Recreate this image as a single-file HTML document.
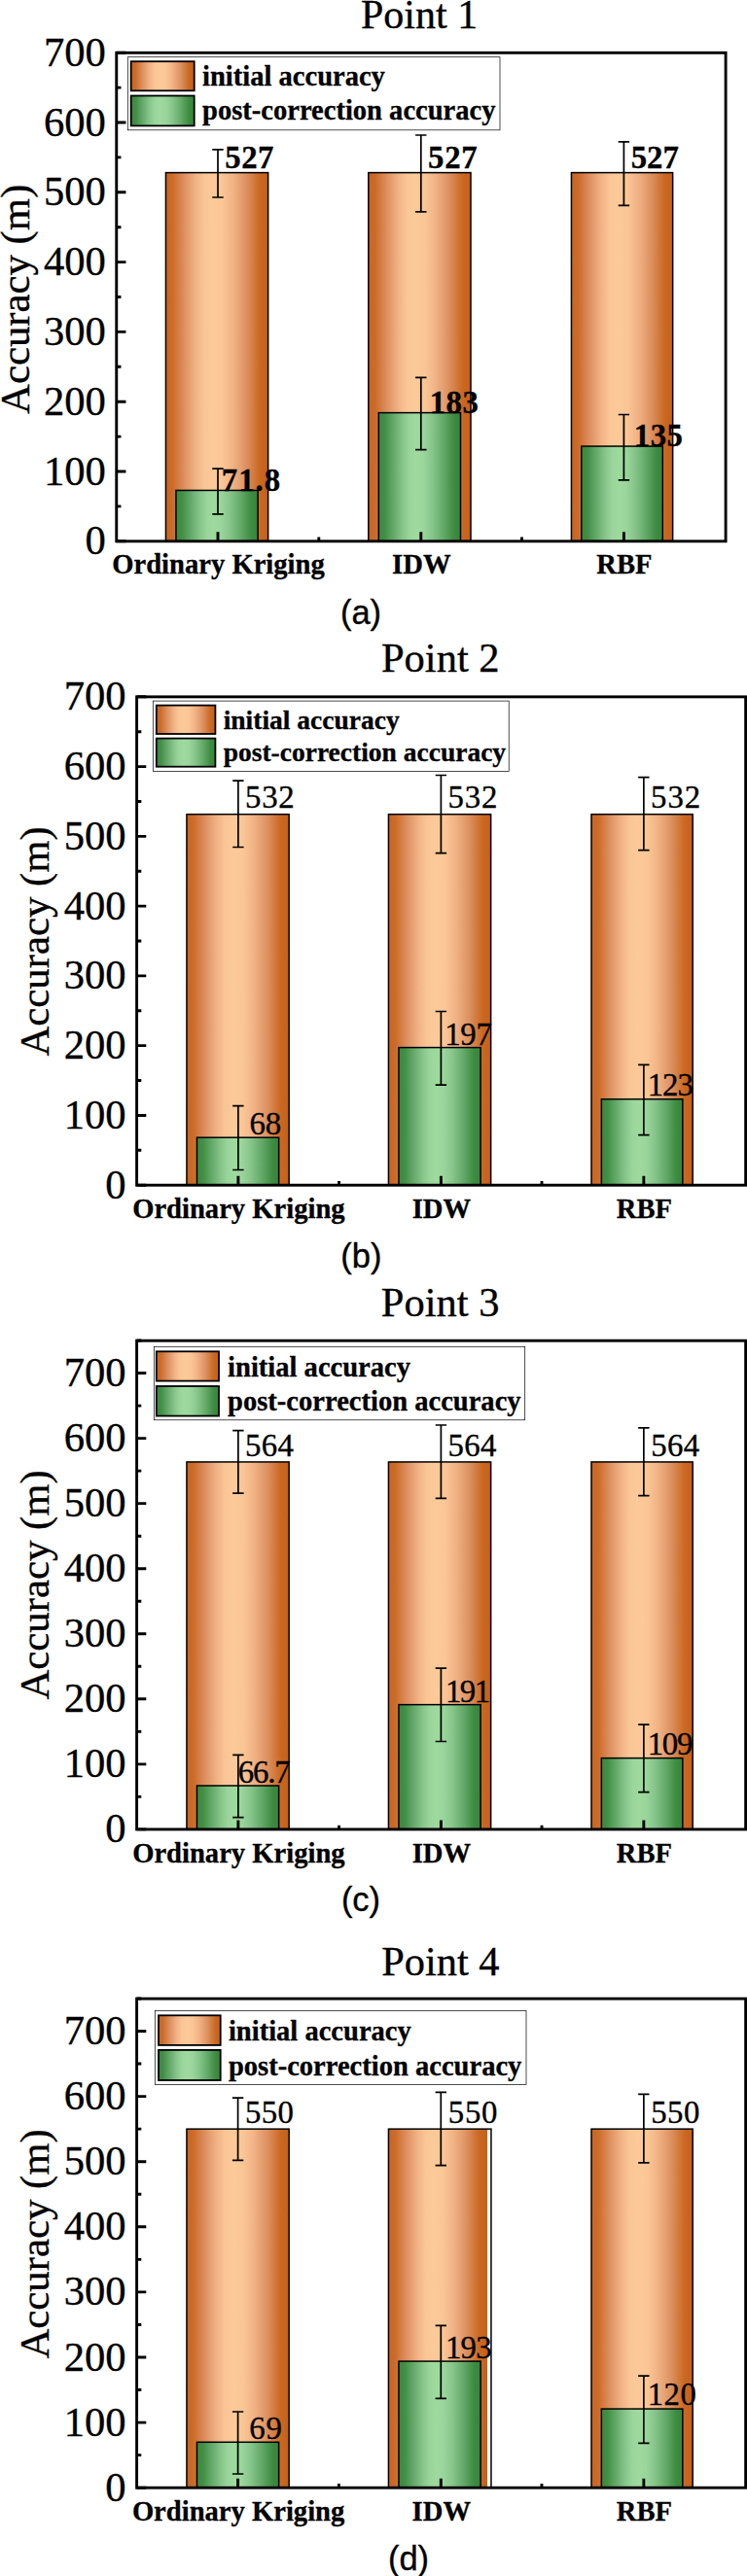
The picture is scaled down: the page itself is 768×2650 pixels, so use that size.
<!DOCTYPE html>
<html lang="en"><head><meta charset="utf-8"><title>Accuracy charts</title>
<style>
html,body{margin:0;padding:0;background:#fff;}
body{width:768px;height:2650px;overflow:hidden;}
svg{display:block;}
text{fill:#000;stroke:#000;stroke-width:0.35px;}
.b{stroke-width:0.3px;}
.s{font-family:"Liberation Serif", "Times New Roman", serif;}
.b{font-family:"Liberation Serif", "Times New Roman", serif;font-weight:bold;}
.n{font-family:"Liberation Sans", Arial, sans-serif;}
</style></head><body>
<svg width="768" height="2650" viewBox="0 0 768 2650">
<defs>
<linearGradient id="go" x1="0" y1="0" x2="1" y2="0">
<stop offset="0" stop-color="#C8651F"/><stop offset="0.07" stop-color="#CC6C2B"/><stop offset="0.18" stop-color="#DC9060"/><stop offset="0.29" stop-color="#F0B284"/><stop offset="0.38" stop-color="#FBC696"/><stop offset="0.46" stop-color="#FCC998"/><stop offset="0.55" stop-color="#FBC696"/><stop offset="0.66" stop-color="#F0B284"/><stop offset="0.79" stop-color="#DC9060"/><stop offset="0.92" stop-color="#CA6821"/><stop offset="1" stop-color="#C4601A"/>
</linearGradient>
<linearGradient id="gg" x1="0" y1="0" x2="1" y2="0">
<stop offset="0" stop-color="#3B883F"/><stop offset="0.07" stop-color="#418E45"/><stop offset="0.18" stop-color="#64A969"/><stop offset="0.29" stop-color="#86C48A"/><stop offset="0.38" stop-color="#9AD69B"/><stop offset="0.46" stop-color="#9EDA9E"/><stop offset="0.55" stop-color="#9AD69B"/><stop offset="0.66" stop-color="#86C48A"/><stop offset="0.79" stop-color="#64A969"/><stop offset="0.92" stop-color="#3E8B42"/><stop offset="1" stop-color="#36843A"/>
</linearGradient>
</defs>
<rect width="768" height="2650" fill="#fff"/>
<g id="chart1">
<text class="s" x="431.1" y="28.9" font-size="42" text-anchor="middle">Point 1</text>
<text class="s" font-size="42.8" text-anchor="middle" transform="translate(29.7 307.8) rotate(-90)">Accuracy (m)</text>
<rect x="170.45" y="177.61" width="105.2" height="379.19" fill="url(#go)" stroke="#000" stroke-width="1.5"/>
<rect x="180.95" y="504.45" width="84.2" height="52.35" fill="url(#gg)" stroke="#000" stroke-width="1.5"/>
<rect x="378.8" y="177.61" width="105.2" height="379.19" fill="url(#go)" stroke="#000" stroke-width="1.5"/>
<rect x="389.3" y="424.61" width="84.2" height="132.19" fill="url(#gg)" stroke="#000" stroke-width="1.5"/>
<rect x="587.45" y="177.61" width="104.2" height="379.19" fill="url(#go)" stroke="#000" stroke-width="1.5"/>
<rect x="597.8" y="459.07" width="83.5" height="97.73" fill="url(#gg)" stroke="#000" stroke-width="1.5"/>
<path d="M224 153.9V203M218.3 153.9h11.4M218.3 203h11.4" stroke="#000" stroke-width="1.7" fill="none"/>
<path d="M224 482.2V528.9M218.3 482.2h11.4M218.3 528.9h11.4" stroke="#000" stroke-width="1.7" fill="none"/>
<path d="M432.8 139V217.9M427.1 139h11.4M427.1 217.9h11.4" stroke="#000" stroke-width="1.7" fill="none"/>
<path d="M432.8 388.3V462.7M427.1 388.3h11.4M427.1 462.7h11.4" stroke="#000" stroke-width="1.7" fill="none"/>
<path d="M641.4 145.8V211.3M635.7 145.8h11.4M635.7 211.3h11.4" stroke="#000" stroke-width="1.7" fill="none"/>
<path d="M641.4 426.5V493.8M635.7 426.5h11.4M635.7 493.8h11.4" stroke="#000" stroke-width="1.7" fill="none"/>
<rect x="119.76" y="54.3" width="626.34" height="502.5" fill="none" stroke="#000" stroke-width="2.9"/>
<path d="M119.76 556.8h9.7M119.76 520.9h4.7M119.76 485h9.7M119.76 449.1h4.7M119.76 413.2h9.7M119.76 377.3h4.7M119.76 341.4h9.7M119.76 305.5h4.7M119.76 269.6h9.7M119.76 233.7h4.7M119.76 197.8h9.7M119.76 161.9h4.7M119.76 126h9.7M119.76 90.1h4.7M119.76 54.2h9.7M224 556.8v-9.5M432.8 556.8v-9.5M641.4 556.8v-9.5M327.8 556.8v-4.2M536.5 556.8v-4.2" stroke="#000" stroke-width="2.9" fill="none"/>
<text class="s" x="108.8" y="570.3" font-size="42.6" text-anchor="end">0</text>
<text class="s" x="108.8" y="498.5" font-size="42.6" text-anchor="end">100</text>
<text class="s" x="108.8" y="426.7" font-size="42.6" text-anchor="end">200</text>
<text class="s" x="108.8" y="354.9" font-size="42.6" text-anchor="end">300</text>
<text class="s" x="108.8" y="283.1" font-size="42.6" text-anchor="end">400</text>
<text class="s" x="108.8" y="211.3" font-size="42.6" text-anchor="end">500</text>
<text class="s" x="108.8" y="139.5" font-size="42.6" text-anchor="end">600</text>
<text class="s" x="108.8" y="67.7" font-size="42.6" text-anchor="end">700</text>
<text class="b" x="224.5" y="589.9" font-size="28.6" text-anchor="middle">Ordinary Kriging</text>
<text class="b" x="433.3" y="589.9" font-size="28.6" text-anchor="middle">IDW</text>
<text class="b" x="641.9" y="589.9" font-size="28.6" text-anchor="middle">RBF</text>
<text class="b" x="231.27" y="173.2" font-size="32.8" letter-spacing="0.53">527</text>
<text class="b" x="439.97" y="173.2" font-size="32.8" letter-spacing="0.78">527</text>
<text class="b" x="648.67" y="173.2" font-size="32.8">527</text>
<text class="b" x="227.85" y="504.9" font-size="32.8" letter-spacing="0.97">71.8</text>
<text class="b" x="441.73" y="424.75" font-size="32.8" letter-spacing="0.45">183</text>
<text class="b" x="651.74" y="458.6" font-size="32.8" letter-spacing="0.5">135</text>
<rect x="131.3" y="58.7" width="382.7" height="75.1" fill="#fff" stroke="#000" stroke-width="0.7"/>
<rect x="134.7" y="63.2" width="65" height="30.1" fill="url(#go)" stroke="#000" stroke-width="1.8"/>
<rect x="134.7" y="98.5" width="65" height="30.9" fill="url(#gg)" stroke="#000" stroke-width="1.8"/>
<text class="b" x="208" y="87.7" font-size="28.55">initial accuracy</text>
<text class="b" x="208" y="122.5" font-size="28.55">post-correction accuracy</text>
<text class="n" x="371" y="641.6" font-size="34.5" text-anchor="middle">(a)</text>
</g>
<g id="chart2">
<text class="s" x="452.8" y="690.8" font-size="42.5" text-anchor="middle">Point 2</text>
<text class="s" font-size="42.8" text-anchor="middle" transform="translate(50.1 968.4) rotate(-90)">Accuracy (m)</text>
<rect x="191.95" y="837.68" width="105.2" height="381.52" fill="url(#go)" stroke="#000" stroke-width="1.5"/>
<rect x="202.45" y="1170.2" width="84.2" height="49" fill="url(#gg)" stroke="#000" stroke-width="1.5"/>
<rect x="399.45" y="837.68" width="105.2" height="381.52" fill="url(#go)" stroke="#000" stroke-width="1.5"/>
<rect x="409.95" y="1077.61" width="84.2" height="141.59" fill="url(#gg)" stroke="#000" stroke-width="1.5"/>
<rect x="608" y="837.68" width="104.2" height="381.52" fill="url(#go)" stroke="#000" stroke-width="1.5"/>
<rect x="618.35" y="1130.72" width="83.5" height="88.48" fill="url(#gg)" stroke="#000" stroke-width="1.5"/>
<path d="M244.9 803.1V871.5M239.2 803.1h11.4M239.2 871.5h11.4" stroke="#000" stroke-width="1.7" fill="none"/>
<path d="M244.9 1137.7V1203.5M239.2 1137.7h11.4M239.2 1203.5h11.4" stroke="#000" stroke-width="1.7" fill="none"/>
<path d="M453.4 797.5V877.7M447.7 797.5h11.4M447.7 877.7h11.4" stroke="#000" stroke-width="1.7" fill="none"/>
<path d="M453.4 1040.5V1116.1M447.7 1040.5h11.4M447.7 1116.1h11.4" stroke="#000" stroke-width="1.7" fill="none"/>
<path d="M661.85 799.7V874.7M656.15 799.7h11.4M656.15 874.7h11.4" stroke="#000" stroke-width="1.7" fill="none"/>
<path d="M661.85 1095.4V1167.6M656.15 1095.4h11.4M656.15 1167.6h11.4" stroke="#000" stroke-width="1.7" fill="none"/>
<rect x="140.6" y="716.85" width="626.05" height="502.35" fill="none" stroke="#000" stroke-width="2.9"/>
<path d="M140.6 1219.2h9.7M140.6 1183.32h4.7M140.6 1147.43h9.7M140.6 1111.55h4.7M140.6 1075.66h9.7M140.6 1039.78h4.7M140.6 1003.89h9.7M140.6 968.01h4.7M140.6 932.12h9.7M140.6 896.24h4.7M140.6 860.35h9.7M140.6 824.47h4.7M140.6 788.58h9.7M140.6 752.7h4.7M140.6 716.81h9.7M244.9 1219.2v-9.5M453.4 1219.2v-9.5M661.85 1219.2v-9.5M348.55 1219.2v-4.2M557.02 1219.2v-4.2" stroke="#000" stroke-width="2.9" fill="none"/>
<text class="s" x="129.6" y="1232.7" font-size="42.6" text-anchor="end">0</text>
<text class="s" x="129.6" y="1160.93" font-size="42.6" text-anchor="end">100</text>
<text class="s" x="129.6" y="1089.16" font-size="42.6" text-anchor="end">200</text>
<text class="s" x="129.6" y="1017.39" font-size="42.6" text-anchor="end">300</text>
<text class="s" x="129.6" y="945.62" font-size="42.6" text-anchor="end">400</text>
<text class="s" x="129.6" y="873.85" font-size="42.6" text-anchor="end">500</text>
<text class="s" x="129.6" y="802.08" font-size="42.6" text-anchor="end">600</text>
<text class="s" x="129.6" y="730.31" font-size="42.6" text-anchor="end">700</text>
<text class="b" x="245.4" y="1253.2" font-size="28.6" text-anchor="middle">Ordinary Kriging</text>
<text class="b" x="453.9" y="1253.2" font-size="28.6" text-anchor="middle">IDW</text>
<text class="b" x="662.35" y="1253.2" font-size="28.6" text-anchor="middle">RBF</text>
<text class="s" x="252.05" y="831.4" font-size="32.8" letter-spacing="0.7">532</text>
<text class="s" x="460.6" y="831.4" font-size="32.8" letter-spacing="0.82">532</text>
<text class="s" x="668.95" y="831.3" font-size="32.8" letter-spacing="1.05">532</text>
<text class="s" x="256.46" y="1166.7" font-size="32.8">68</text>
<text class="s" x="457.13" y="1074.5" font-size="32.8" letter-spacing="-0.2">197</text>
<text class="s" x="665.63" y="1127.25" font-size="32.8" letter-spacing="-0.9">123</text>
<rect x="157.3" y="721.1" width="365.9" height="72.4" fill="#fff" stroke="#000" stroke-width="0.7"/>
<rect x="160.8" y="725.6" width="60.6" height="29.4" fill="url(#go)" stroke="#000" stroke-width="1.8"/>
<rect x="160.8" y="759.6" width="60.6" height="29.1" fill="url(#gg)" stroke="#000" stroke-width="1.8"/>
<text class="b" x="229.7" y="750" font-size="27.5">initial accuracy</text>
<text class="b" x="229.7" y="783" font-size="27.5">post-correction accuracy</text>
<text class="n" x="371.3" y="1303.5" font-size="34.5" text-anchor="middle">(b)</text>
</g>
<g id="chart3">
<text class="s" x="452.6" y="1353.9" font-size="42.5" text-anchor="middle">Point 3</text>
<text class="s" font-size="42.8" text-anchor="middle" transform="translate(50.1 1630.4) rotate(-90)">Accuracy (m)</text>
<rect x="191.95" y="1503.94" width="105.2" height="377.96" fill="url(#go)" stroke="#000" stroke-width="1.5"/>
<rect x="202.45" y="1836.98" width="84.2" height="44.92" fill="url(#gg)" stroke="#000" stroke-width="1.5"/>
<rect x="399.45" y="1503.94" width="105.2" height="377.96" fill="url(#go)" stroke="#000" stroke-width="1.5"/>
<rect x="409.95" y="1753.63" width="84.2" height="128.27" fill="url(#gg)" stroke="#000" stroke-width="1.5"/>
<rect x="608" y="1503.94" width="104.2" height="377.96" fill="url(#go)" stroke="#000" stroke-width="1.5"/>
<rect x="618.35" y="1808.62" width="83.5" height="73.28" fill="url(#gg)" stroke="#000" stroke-width="1.5"/>
<path d="M244.9 1471.6V1536.1M239.2 1471.6h11.4M239.2 1536.1h11.4" stroke="#000" stroke-width="1.7" fill="none"/>
<path d="M244.9 1805.4V1869.7M239.2 1805.4h11.4M239.2 1869.7h11.4" stroke="#000" stroke-width="1.7" fill="none"/>
<path d="M453.4 1466V1541.3M447.7 1466h11.4M447.7 1541.3h11.4" stroke="#000" stroke-width="1.7" fill="none"/>
<path d="M453.4 1716.1V1791.5M447.7 1716.1h11.4M447.7 1791.5h11.4" stroke="#000" stroke-width="1.7" fill="none"/>
<path d="M661.85 1468.8V1538.6M656.15 1468.8h11.4M656.15 1538.6h11.4" stroke="#000" stroke-width="1.7" fill="none"/>
<path d="M661.85 1774.05V1843.7M656.15 1774.05h11.4M656.15 1843.7h11.4" stroke="#000" stroke-width="1.7" fill="none"/>
<rect x="140.6" y="1379.2" width="626.05" height="502.7" fill="none" stroke="#000" stroke-width="2.9"/>
<path d="M140.6 1881.9h9.7M140.6 1848.38h4.7M140.6 1814.85h9.7M140.6 1781.33h4.7M140.6 1747.8h9.7M140.6 1714.28h4.7M140.6 1680.75h9.7M140.6 1647.23h4.7M140.6 1613.7h9.7M140.6 1580.18h4.7M140.6 1546.65h9.7M140.6 1513.12h4.7M140.6 1479.6h9.7M140.6 1446.08h4.7M140.6 1412.55h9.7M140.6 1379.03h4.7M244.9 1881.9v-9.5M453.4 1881.9v-9.5M661.85 1881.9v-9.5M348.55 1881.9v-4.2M557.02 1881.9v-4.2" stroke="#000" stroke-width="2.9" fill="none"/>
<text class="s" x="129.6" y="1895.4" font-size="42.6" text-anchor="end">0</text>
<text class="s" x="129.6" y="1828.35" font-size="42.6" text-anchor="end">100</text>
<text class="s" x="129.6" y="1761.3" font-size="42.6" text-anchor="end">200</text>
<text class="s" x="129.6" y="1694.25" font-size="42.6" text-anchor="end">300</text>
<text class="s" x="129.6" y="1627.2" font-size="42.6" text-anchor="end">400</text>
<text class="s" x="129.6" y="1560.15" font-size="42.6" text-anchor="end">500</text>
<text class="s" x="129.6" y="1493.1" font-size="42.6" text-anchor="end">600</text>
<text class="s" x="129.6" y="1426.05" font-size="42.6" text-anchor="end">700</text>
<text class="b" x="245.4" y="1915.5" font-size="28.6" text-anchor="middle">Ordinary Kriging</text>
<text class="b" x="453.9" y="1915.5" font-size="28.6" text-anchor="middle">IDW</text>
<text class="b" x="662.35" y="1915.5" font-size="28.6" text-anchor="middle">RBF</text>
<text class="s" x="252.05" y="1497.8" font-size="32.8" letter-spacing="0.28">564</text>
<text class="s" x="460.6" y="1497.8" font-size="32.8" letter-spacing="0.28">564</text>
<text class="s" x="669.25" y="1497.9" font-size="32.8" letter-spacing="0.33">564</text>
<text class="s" x="244.87" y="1834.45" font-size="32.8" letter-spacing="-1.21">66.7</text>
<text class="s" x="457.88" y="1750.6" font-size="32.8" letter-spacing="-1.5">191</text>
<text class="s" x="665.63" y="1805.2" font-size="32.8" letter-spacing="-1.25">109</text>
<rect x="158.3" y="1385.3" width="381.4" height="75.5" fill="#fff" stroke="#000" stroke-width="0.7"/>
<rect x="160.8" y="1390.3" width="64.2" height="30.3" fill="url(#go)" stroke="#000" stroke-width="1.8"/>
<rect x="160.8" y="1426" width="64.2" height="30.6" fill="url(#gg)" stroke="#000" stroke-width="1.8"/>
<text class="b" x="234.1" y="1415.5" font-size="28.55">initial accuracy</text>
<text class="b" x="234.1" y="1450.7" font-size="28.55">post-correction accuracy</text>
<text class="n" x="371" y="1965.5" font-size="34.5" text-anchor="middle">(c)</text>
</g>
<g id="chart4">
<text class="s" x="452.9" y="2031.5" font-size="42.4" text-anchor="middle">Point 4</text>
<text class="s" font-size="42.8" text-anchor="middle" transform="translate(50.1 2308.4) rotate(-90)">Accuracy (m)</text>
<rect x="191.95" y="2190.15" width="105.2" height="369.05" fill="url(#go)" stroke="#000" stroke-width="1.5"/>
<rect x="202.45" y="2512.3" width="84.2" height="46.9" fill="url(#gg)" stroke="#000" stroke-width="1.5"/>
<rect x="399.45" y="2190.15" width="101.6" height="369.05" fill="url(#go)"/>
<rect x="399.45" y="2190.15" width="105.5" height="369.05" fill="none" stroke="#000" stroke-width="1.5"/>
<rect x="409.95" y="2429.1" width="84.2" height="130.1" fill="url(#gg)" stroke="#000" stroke-width="1.5"/>
<rect x="608" y="2190.15" width="104.2" height="369.05" fill="url(#go)" stroke="#000" stroke-width="1.5"/>
<rect x="618.35" y="2478.08" width="83.5" height="81.12" fill="url(#gg)" stroke="#000" stroke-width="1.5"/>
<path d="M244.6 2158.05V2222.3M238.9 2158.05h11.4M238.9 2222.3h11.4" stroke="#000" stroke-width="1.7" fill="none"/>
<path d="M244.6 2481V2545M238.9 2481h11.4M238.9 2545h11.4" stroke="#000" stroke-width="1.7" fill="none"/>
<path d="M453.3 2152.3V2227.6M447.6 2152.3h11.4M447.6 2227.6h11.4" stroke="#000" stroke-width="1.7" fill="none"/>
<path d="M453.3 2392.3V2467.4M447.6 2392.3h11.4M447.6 2467.4h11.4" stroke="#000" stroke-width="1.7" fill="none"/>
<path d="M661.85 2154.45V2224.9M656.15 2154.45h11.4M656.15 2224.9h11.4" stroke="#000" stroke-width="1.7" fill="none"/>
<path d="M661.85 2444.05V2513.45M656.15 2444.05h11.4M656.15 2513.45h11.4" stroke="#000" stroke-width="1.7" fill="none"/>
<rect x="140.6" y="2056.1" width="626.05" height="503.1" fill="none" stroke="#000" stroke-width="2.9"/>
<path d="M140.6 2559.2h9.7M140.6 2525.65h4.7M140.6 2492.1h9.7M140.6 2458.55h4.7M140.6 2425h9.7M140.6 2391.45h4.7M140.6 2357.9h9.7M140.6 2324.35h4.7M140.6 2290.8h9.7M140.6 2257.25h4.7M140.6 2223.7h9.7M140.6 2190.15h4.7M140.6 2156.6h9.7M140.6 2123.05h4.7M140.6 2089.5h9.7M140.6 2055.95h4.7M244.6 2559.2v-9.5M453.3 2559.2v-9.5M661.85 2559.2v-9.5M348.35 2559.2v-4.2M556.98 2559.2v-4.2" stroke="#000" stroke-width="2.9" fill="none"/>
<text class="s" x="129.6" y="2572.7" font-size="42.6" text-anchor="end">0</text>
<text class="s" x="129.6" y="2505.6" font-size="42.6" text-anchor="end">100</text>
<text class="s" x="129.6" y="2438.5" font-size="42.6" text-anchor="end">200</text>
<text class="s" x="129.6" y="2371.4" font-size="42.6" text-anchor="end">300</text>
<text class="s" x="129.6" y="2304.3" font-size="42.6" text-anchor="end">400</text>
<text class="s" x="129.6" y="2237.2" font-size="42.6" text-anchor="end">500</text>
<text class="s" x="129.6" y="2170.1" font-size="42.6" text-anchor="end">600</text>
<text class="s" x="129.6" y="2103" font-size="42.6" text-anchor="end">700</text>
<text class="b" x="245.1" y="2593.2" font-size="28.6" text-anchor="middle">Ordinary Kriging</text>
<text class="b" x="453.8" y="2593.2" font-size="28.6" text-anchor="middle">IDW</text>
<text class="b" x="662.35" y="2593.2" font-size="28.6" text-anchor="middle">RBF</text>
<text class="s" x="252.05" y="2184.3" font-size="32.8" letter-spacing="0.39">550</text>
<text class="s" x="460.85" y="2184.4" font-size="32.8" letter-spacing="0.74">550</text>
<text class="s" x="669.15" y="2184.3" font-size="32.8" letter-spacing="0.51">550</text>
<text class="s" x="256.17" y="2509.05" font-size="32.8" letter-spacing="0.87">69</text>
<text class="s" x="457.88" y="2425.7" font-size="32.8" letter-spacing="-0.77">193</text>
<text class="s" x="665.63" y="2474.4" font-size="32.8" letter-spacing="0.6">120</text>
<rect x="159.3" y="2068.4" width="381.7" height="76" fill="#fff" stroke="#000" stroke-width="0.7"/>
<rect x="163" y="2073.3" width="63.7" height="30.6" fill="url(#go)" stroke="#000" stroke-width="1.8"/>
<rect x="163" y="2108.9" width="63.7" height="31.1" fill="url(#gg)" stroke="#000" stroke-width="1.8"/>
<text class="b" x="234.9" y="2099.1" font-size="28.55">initial accuracy</text>
<text class="b" x="234.9" y="2134.5" font-size="28.55">post-correction accuracy</text>
<text class="n" x="420" y="2644.3" font-size="34.5" text-anchor="middle">(d)</text>
</g>
</svg>
</body></html>
